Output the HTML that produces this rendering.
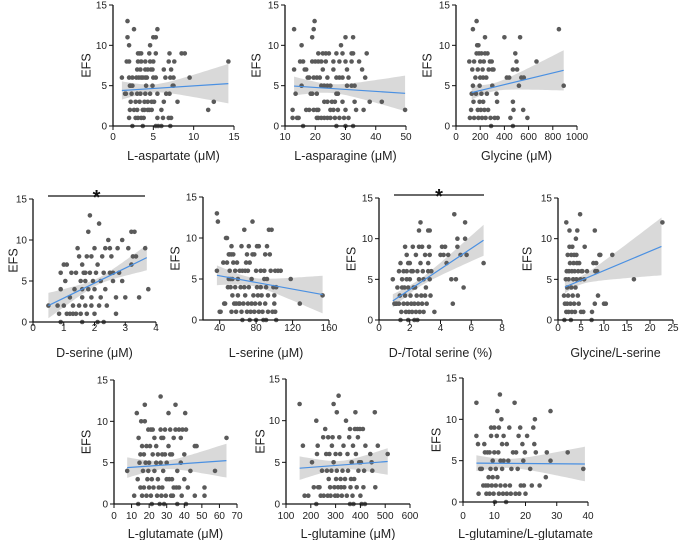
<!DOCTYPE html>
<html><head><meta charset="utf-8"><style>
html,body{margin:0;padding:0;background:#fff;width:685px;height:540px;overflow:hidden}
svg{display:block;font-family:"Liberation Sans",Arial,sans-serif}
</style></head><body>
<svg id="fig" width="685" height="540" viewBox="0 0 685 540" xmlns="http://www.w3.org/2000/svg"></svg>
<script>
const ptsAspartate=[[1.1,6],[1.8,13],[1.8,11],[2.0,10],[2.6,12],[1.7,8],[2.0,8],[1.5,4],[1.6,4],[2.1,5],[2.2,5],[2.4,5],[2.0,6],[2.4,6],[2.0,1],[2.1,2],[2.2,3],[2.3,4],[2.4,0],[2.6,2],[2.8,1],[3.0,2],[3.1,1],[3.1,9],[3.3,9],[3.5,9],[3.1,8],[3.5,8],[3.0,7],[3.4,7],[2.9,6],[3.2,6],[3.5,6],[3.7,6],[3.0,4],[3.4,4],[2.8,3],[3.3,3],[3.7,2],[3.9,2],[3.5,1],[3.8,1],[3.7,0],[4.0,8],[4.0,6],[4.1,5],[4.2,6],[4.0,4],[3.9,3],[4.3,3],[4.3,2],[4.5,2],[4.0,7],[4.3,7],[4.5,9],[4.6,10],[4.6,8],[4.7,7],[4.9,7],[4.9,5],[4.8,3],[4.6,4],[4.8,2],[5.0,11],[5.3,11],[5.5,12],[5.3,9],[5.0,8],[5.0,6],[5.3,6],[5.5,4],[5.5,1],[5.3,0],[5.6,0],[5.1,3],[6.0,0],[6.0,2],[6.2,1],[6.3,3],[6.3,7],[6.5,6],[6.6,4],[6.9,8],[7.0,9],[7.1,6],[7.2,7],[7.0,4],[6.9,1],[7.2,1],[7.1,0],[7.4,5],[7.5,6],[7.5,5],[7.6,8],[8.0,3],[8.5,9],[8.9,9],[9.5,6],[11.8,2],[12.5,3],[14.3,8]];
const ptsAsparagine=[[12.5,2],[12.5,1],[13,12],[13,7],[13.5,4],[14,1],[14.5,1],[15.5,10],[15.5,5],[15,8],[16,8],[16,0],[16.5,7],[17,7],[17,2],[17.5,6],[18,6],[18,2],[18.5,4],[19,11],[19,8],[19,4],[19.5,12],[19.8,13],[19.5,6],[19.5,2],[20,8],[20.5,6],[20.5,4],[20.5,2],[20.5,1],[21,9],[21,8],[21,2],[21,1],[21.5,6],[22,8],[22,5],[22,1],[22.5,9],[22.5,7],[23,5],[23,3],[23,1],[23.5,9],[23.5,8],[24,6],[24,5],[24,3],[24,1],[24.5,9],[25,5],[25,2],[25,1],[25.5,3],[26,8],[26,7],[26,2],[26.5,3],[26.5,1],[27,9],[27,6],[27,4],[27,0],[27.5,4],[27.5,2],[28,8],[28,6],[28,1],[28.5,10],[29,9],[29,6],[29,3],[29.5,1],[30,11],[30,8],[30,2],[30,0],[30.5,7],[30.5,5],[31,1],[31,6],[32,9],[32,8],[32,5],[32.5,11],[32.5,9],[32.5,0],[33,5],[33,3],[33.5,2],[34.5,8],[35.5,7],[36,2],[36.5,6],[37,9],[38,3],[42,3],[49.7,2]];
const ptsGlycine=[[110,8],[115,1],[125,2],[130,4],[135,7],[140,12],[140,5],[145,3],[150,1],[150,8],[160,6],[165,4],[170,13],[170,9],[175,10],[180,2],[180,7],[185,10],[185,1],[190,9],[195,5],[195,3],[200,8],[200,6],[205,2],[210,9],[210,4],[215,1],[220,7],[225,6],[225,3],[230,8],[235,2],[240,11],[240,9],[245,1],[250,6],[255,4],[260,9],[265,2],[270,7],[280,8],[285,1],[290,0],[295,8],[300,5],[300,7],[310,7],[320,1],[335,4],[340,3],[345,1],[400,11],[420,6],[440,6],[450,1],[470,7],[470,3],[475,2],[470,0],[490,9],[500,8],[505,7],[520,5],[530,11],[540,6],[555,2],[560,6],[590,1],[665,8],[850,12],[890,5]];
const ptsDSerine=[[0.5,2],[0.8,2],[0.85,1],[0.9,0],[0.9,4],[0.9,6],[1.0,7],[1.05,5],[1.1,7],[1.1,1],[1.2,3],[1.2,1],[1.25,6],[1.3,2],[1.35,4],[1.4,1],[1.4,6],[1.45,9],[1.5,2],[1.5,8],[1.55,5],[1.55,1],[1.6,0],[1.6,7],[1.6,4],[1.6,3],[1.65,6],[1.7,5],[1.7,2],[1.75,8],[1.75,1],[1.8,11],[1.8,4],[1.85,6],[1.85,13],[1.9,8],[1.9,3],[1.9,2],[1.95,5],[2.0,1],[2.0,4],[2.0,9],[2.05,6],[2.1,7],[2.1,0],[2.15,12],[2.15,2],[2.2,5],[2.2,3],[2.25,8],[2.3,6],[2.3,0],[2.35,4],[2.35,9],[2.4,2],[2.45,10],[2.5,9],[2.5,6],[2.55,8],[2.6,5],[2.7,1],[2.7,3],[2.75,9],[2.8,6],[2.9,10],[2.9,5],[3.0,3],[3.1,9],[3.2,11],[3.2,7],[3.25,8],[3.3,11],[3.35,8],[3.45,3],[3.65,9],[3.75,4],[1.0,2],[1.3,1],[1.7,6],[2.6,6]];
const ptsLSerine=[[37,6],[37,13],[38,12],[40,1],[41,1],[44,7],[45,2],[46,2],[47,10],[48,10],[48,7],[49,4],[50,5],[50,8],[51,8],[51,6],[52,5],[52,4],[53,9],[53,8],[53,1],[54,3],[54,5],[55,8],[55,7],[56,2],[57,4],[57,6],[58,1],[58,2],[59,7],[60,5],[60,3],[61,2],[62,6],[62,2],[63,4],[64,1],[64,9],[65,6],[65,0],[66,2],[67,11],[67,4],[68,3],[68,6],[69,7],[70,1],[70,8],[71,6],[71,2],[72,9],[72,4],[73,0],[73,7],[74,1],[75,2],[75,5],[76,12],[76,8],[77,3],[78,1],[78,8],[79,2],[80,6],[80,0],[81,4],[81,9],[82,3],[83,9],[83,1],[84,2],[85,6],[85,4],[86,3],[87,1],[88,0],[89,6],[89,5],[90,8],[90,2],[91,0],[91,4],[92,5],[92,9],[93,1],[93,3],[94,11],[95,8],[96,6],[97,11],[98,1],[99,4],[100,3],[100,2],[101,1],[101,6],[102,0],[102,4],[104,6],[107,6],[118,5],[128,2],[153,3]];
const ptsDTotal=[[0.9,5],[1.0,2],[1.1,2],[1.2,4],[1.3,2],[1.3,6],[1.35,3],[1.4,7],[1.4,0],[1.45,1],[1.5,5],[1.5,4],[1.6,6],[1.6,2],[1.65,4],[1.7,9],[1.7,3],[1.75,1],[1.8,6],[1.8,8],[1.8,5],[1.85,2],[1.9,7],[1.9,4],[1.95,1],[2.0,7],[2.0,5],[2.05,3],[2.1,6],[2.1,2],[2.15,1],[2.2,9],[2.2,6],[2.25,4],[2.3,2],[2.3,0],[2.35,4],[2.4,8],[2.4,1],[2.45,3],[2.5,6],[2.5,0],[2.55,2],[2.6,11],[2.6,9],[2.6,5],[2.65,1],[2.7,12],[2.7,7],[2.75,3],[2.8,9],[2.8,2],[2.85,6],[2.9,5],[2.9,1],[3.0,8],[3.0,3],[3.05,4],[3.1,2],[3.2,11],[3.2,7],[3.2,6],[3.25,9],[3.3,11],[3.3,8],[3.3,5],[3.35,3],[3.4,6],[3.6,1],[4.0,8],[4.1,9],[4.2,8],[4.3,9],[4.4,7],[4.5,8],[4.7,5],[4.8,2],[4.9,13],[5.0,5],[5.1,10],[5.1,9],[5.3,8],[5.5,4],[5.6,12],[5.6,10],[5.7,8],[6.8,7],[1.15,2],[1.9,0]];
const ptsGlyLSer=[[1.3,3],[1.4,0],[1.5,2],[1.7,5],[1.8,12],[1.8,1],[1.9,6],[2.0,4],[2.0,2],[2.1,8],[2.2,3],[2.3,1],[2.3,5],[2.4,6],[2.5,9],[2.5,11],[2.6,7],[2.7,2],[2.8,0],[2.9,4],[2.9,8],[3.0,6],[3.0,1],[3.1,9],[3.2,3],[3.3,5],[3.4,7],[3.5,2],[3.5,8],[3.6,6],[3.7,1],[3.8,4],[3.9,10],[4.0,8],[4.0,5],[4.1,7],[4.2,11],[4.3,3],[4.4,6],[4.5,2],[4.6,7],[4.8,13],[4.9,5],[5.0,1],[5.1,6],[5.3,6],[5.5,1],[5.7,5],[5.8,9],[6.3,6],[7.3,0],[7.4,1],[7.7,7],[8.0,11],[8.0,2],[8.1,6],[8.3,7],[8.5,6],[8.7,3],[9.0,8],[9.2,8],[10.0,2],[10.4,2],[11.8,8],[16.5,5],[22.7,12]];
const ptsGlutamate=[[7.5,4],[11.5,1],[13,11],[13.5,3],[13.8,0],[14,8],[14.5,5],[15,6],[15,2],[15.5,10],[16,7],[16,1],[16.5,4],[17,6],[17,2],[17.5,12],[17.5,10],[18,5],[18.5,7],[18.5,1],[19,3],[19.5,4],[19.5,9],[20,5],[20,2],[20.5,7],[21,9],[21,1],[21.5,3],[21.5,0],[22,6],[22,9],[22.5,2],[23,8],[23,4],[24,5],[24,7],[24.5,1],[25,3],[25,6],[25.5,2],[26,0],[26.5,13],[26.5,9],[26.5,5],[27,8],[27,1],[27.5,6],[27.5,2],[28,4],[28,8],[28.5,0],[29,9],[29,6],[29.5,1],[30,5],[30,3],[31,7],[31,11],[31.5,3],[32,9],[32,6],[32.5,1],[33,6],[33,3],[33.5,1],[34,8],[34,2],[35,12],[35,9],[35.5,2],[36,4],[36,0],[37,9],[37,2],[38,5],[38,8],[38.5,1],[39,9],[40,6],[40,3],[40.5,11],[41,9],[41,0],[42,2],[43.5,4],[46,7],[46,1],[47,7],[51.5,2],[51.5,1],[57.5,4],[64,8]];
const ptsGlutamine=[[155,12],[168,7],[175,1],[190,1],[205,5],[212,2],[222,10],[222,0],[225,6],[228,7],[230,2],[235,2],[240,1],[245,4],[250,8],[252,1],[258,9],[262,6],[265,4],[268,1],[270,8],[272,3],[275,6],[278,2],[280,1],[283,4],[285,7],[288,8],[292,12],[292,5],[295,2],[298,1],[300,6],[302,3],[305,11],[305,4],[308,1],[310,2],[312,13],[315,8],[318,6],[320,3],[322,2],[325,1],[328,4],[332,7],[335,2],[338,3],[342,10],[345,1],[348,6],[350,4],[355,8],[358,9],[358,0],[360,2],[362,3],[365,5],[368,1],[370,7],[372,0],[375,3],[378,9],[380,11],[382,6],[385,2],[388,9],[390,8],[392,4],[395,5],[398,9],[400,1],[402,5],[405,0],[410,9],[412,2],[415,4],[418,0],[420,7],[440,6],[445,5],[448,4],[458,11],[460,2],[470,7],[510,6]];
const ptsRatio=[[4.3,12],[4.3,8],[4.8,7],[5.0,1],[5.5,4],[6,4],[6.5,2],[6.8,7],[7,6],[7.3,2],[7.5,1],[7.8,6],[8,2],[8.2,3],[8.5,1],[8.5,6],[8.8,4],[9,9],[9,8],[9.2,2],[9.5,5],[9.5,3],[9.8,1],[10,6],[10,9],[10.2,0],[10.5,4],[10.5,2],[10.8,8],[11,11],[11,3],[11.3,6],[11.5,1],[11.5,9],[11.8,13],[12,5],[12,2],[12.3,10],[12.5,7],[12.5,4],[12.8,1],[13,8],[13,5],[13.5,2],[13.8,0],[14,7],[14,1],[14.5,5],[14.8,9],[15,2],[15.3,1],[15.5,4],[16,6],[16.5,12],[16.8,1],[17,6],[17.5,4],[17.8,8],[18,1],[18.3,9],[18.5,2],[19,7],[19.3,5],[19.5,2],[19.8,6],[20,1],[20.5,8],[21.5,4],[22,2],[22.5,9],[22.8,7],[23,10],[23.3,6],[24.5,2],[26.5,3],[26.8,6],[28,11],[28,5],[33.5,6],[38.5,4]];
// regression fits [x0,y0,x1,y1] and CI band [xMean, minHalfWidth, halfWidthAtFarEnd]
const fitAspartate=[1.1,4.4,14.3,5.25], bandAspartate=[5,0.5,2.45];
const fitAsparagine=[13,4.95,49.7,4.05], bandAsparagine=[25,0.55,2.2];
const fitGlycine=[130,4.15,890,6.9], bandGlycine=[300,0.5,2.5];
const fitDSerine=[0.5,2.0,3.7,7.85], bandDSerine=[2.1,0.4,1.55];
const fitLSerine=[37,5.45,153,3.1], bandLSerine=[75,0.5,2.3];
const fitDTotal=[0.9,2.35,6.8,9.8], bandDTotal=[2.5,0.45,1.9];
const fitGlyLSer=[1.5,4.05,22.5,9.05], bandGlyLSer=[4.5,0.5,3.55];
const fitGlutamate=[7.5,4.4,64,5.25], bandGlutamate=[28,0.5,2.05];
const fitGlutamine=[155,4.3,510,5.1], bandGlutamine=[320,0.5,1.6];
const fitRatio=[4.3,4.7,39,4.6], bandRatio=[14,0.55,2.1];
const yTicks=[0,5,10,15];
const ticksAspartate=[0,5,10,15], ticksAsparagine=[10,20,30,40,50], ticksGlycine=[0,200,400,600,800,1000];
const ticksDSerine=[0,1,2,3,4], ticksLSerine=[40,80,120,160], ticksDTotal=[0,2,4,6,8], ticksGlyLSer=[0,5,10,15,20,25];
const ticksGlutamate=[0,10,20,30,40,50,60,70], ticksGlutamine=[100,200,300,400,500,600], ticksRatio=[0,10,20,30,40];

const NS='http://www.w3.org/2000/svg';
const svg=document.getElementById('fig');
function mk(tag,attrs,parent){const e=document.createElementNS(NS,tag);for(const k in attrs)e.setAttribute(k,attrs[k]);(parent||svg).appendChild(e);return e;}

const panels=[
 {key:'aspartate',title:'L-aspartate (\u03bcM)',pts:ptsAspartate,fit:fitAspartate,band:bandAspartate,ticks:ticksAspartate,x0:113,x1:234,d0:0,d1:15,yT:5,yB:126,efs:26,tl:140,tt:160},
 {key:'asparagine',title:'L-asparagine (\u03bcM)',pts:ptsAsparagine,fit:fitAsparagine,band:bandAsparagine,ticks:ticksAsparagine,x0:285,x1:406,d0:10,d1:50,yT:5,yB:126,efs:28,tl:140,tt:160},
 {key:'glycine',title:'Glycine (\u03bcM)',pts:ptsGlycine,fit:fitGlycine,band:bandGlycine,ticks:ticksGlycine,x0:456,x1:577,d0:0,d1:1000,yT:5,yB:126,efs:28,tl:140,tt:160},
 {key:'d-serine',title:'D-serine (\u03bcM)',pts:ptsDSerine,fit:fitDSerine,band:bandDSerine,ticks:ticksDSerine,x0:33,x1:156,d0:0,d1:4,yT:199,yB:322,efs:19,tl:331,tt:357,star:[48,145]},
 {key:'l-serine',title:'L-serine (\u03bcM)',pts:ptsLSerine,fit:fitLSerine,band:bandLSerine,ticks:ticksLSerine,x0:203,x1:329,d0:21.7,d1:160,yT:197,yB:320,efs:27,tl:331,tt:357},
 {key:'d-total-serine',title:'D-/Total serine (%)',pts:ptsDTotal,fit:fitDTotal,band:bandDTotal,ticks:ticksDTotal,x0:379,x1:502,d0:0,d1:8,yT:198,yB:320,efs:27,tl:331,tt:357,star:[394,484]},
 {key:'glycine-l-serine',title:'Glycine/L-serine',pts:ptsGlyLSer,fit:fitGlyLSer,band:bandGlyLSer,ticks:ticksGlyLSer,x0:558,x1:673,d0:0,d1:25,yT:198,yB:320,efs:30,tl:331,tt:357},
 {key:'glutamate',title:'L-glutamate (\u03bcM)',pts:ptsGlutamate,fit:fitGlutamate,band:bandGlutamate,ticks:ticksGlutamate,x0:114,x1:237,d0:0,d1:70,yT:380,yB:504,efs:27,tl:519,tt:538},
 {key:'glutamine',title:'L-glutamine (\u03bcM)',pts:ptsGlutamine,fit:fitGlutamine,band:bandGlutamine,ticks:ticksGlutamine,x0:286,x1:410,d0:100,d1:600,yT:379,yB:504,efs:25,tl:519,tt:538},
 {key:'glutamine-glutamate',title:'L-glutamine/L-glutamate',pts:ptsRatio,fit:fitRatio,band:bandRatio,ticks:ticksRatio,x0:463,x1:588,d0:0,d1:40,yT:378,yB:502,efs:26,tl:519,tt:538}
];

panels.forEach(p=>{
  const g=mk('g',{});
  
  
  const sx=v=>p.x0+(v-p.d0)/(p.d1-p.d0)*(p.x1-p.x0);
  const sy=v=>p.yB-v/15*(p.yB-p.yT);
  // CI band
  const [xm,hm,he]=p.band, fx0=p.fit[0], fx1=p.fit[2];
  const far=Math.max(Math.abs(fx1-xm),Math.abs(fx0-xm));
  const k=(he*he-hm*hm)/(far*far);
  const lineY=x=>p.fit[1]+(x-fx0)/(fx1-fx0)*(p.fit[3]-p.fit[1]);
  const hw=x=>Math.sqrt(hm*hm+k*(x-xm)*(x-xm));
  let up=[],lo=[];
  for(let i=0;i<=40;i++){const x=fx0+(fx1-fx0)*i/40;up.push(sx(x).toFixed(1)+','+sy(lineY(x)+hw(x)).toFixed(1));lo.unshift(sx(x).toFixed(1)+','+sy(lineY(x)-hw(x)).toFixed(1));}
  const band=mk('polygon',{points:up.concat(lo).join(' '),fill:'#d9d9d9',stroke:'none'},g);
  
  
  // points
  p.pts.forEach(d=>{
    const c=mk('circle',{cx:sx(d[0]).toFixed(1),cy:sy(d[1]).toFixed(1),r:2.3,fill:'#5a5a5a'},g);
    
    
  });
  const ln=mk('line',{x1:sx(fx0),y1:sy(p.fit[1]),x2:sx(fx1),y2:sy(p.fit[3]),stroke:'#4a90e2','stroke-width':1.2},g);
  
  
  // axes
  const ya=mk('line',{x1:p.x0,y1:p.yT,x2:p.x0,y2:p.yB+0.5,stroke:'#111','stroke-width':1.3},g);
  
  
  const xa=mk('line',{x1:p.x0-0.5,y1:p.yB,x2:p.x1,y2:p.yB,stroke:'#111','stroke-width':1.3},g);
  
  
  yTicks.forEach(t=>{
    mk('line',{x1:p.x0-4,y1:sy(t),x2:p.x0,y2:sy(t),stroke:'#111','stroke-width':1},g);
    const tx=mk('text',{x:p.x0-6,y:sy(t)+3.5,'text-anchor':'end','font-size':10,fill:'#222'},g);
    tx.textContent=t;
    
    
  });
  p.ticks.forEach(t=>{
    mk('line',{x1:sx(t),y1:p.yB,x2:sx(t),y2:p.yB+4,stroke:'#111','stroke-width':1},g);
    const tx=mk('text',{x:sx(t),y:p.tl,'text-anchor':'middle','font-size':10,fill:'#222'},g);
    tx.textContent=t;
    
    
  });
  const xt=mk('text',{x:(p.x0+p.x1)/2,y:p.tt,'text-anchor':'middle','font-size':12.5,fill:'#222'},g);
  xt.textContent=p.title;
  
  
  const cy=(p.yT+p.yB)/2, cx=p.x0-p.efs;
  const yt=mk('text',{x:cx,y:cy,'text-anchor':'middle','dominant-baseline':'middle','font-size':12.5,fill:'#222',transform:'rotate(-90 '+cx+' '+cy+')'},g);
  yt.textContent='EFS';
  
  
  if(p.star){
    const sl=mk('line',{x1:p.star[0],y1:p.yT-3,x2:p.star[1],y2:p.yT-3,stroke:'#111','stroke-width':1.3},g);
    
    
    const st=mk('text',{x:(p.star[0]+p.star[1])/2,y:p.yT+5,'text-anchor':'middle','font-size':20,'font-weight':'bold',fill:'#111'},g);
    st.textContent='*';
    
    
  }
});
</script>
</body></html>
